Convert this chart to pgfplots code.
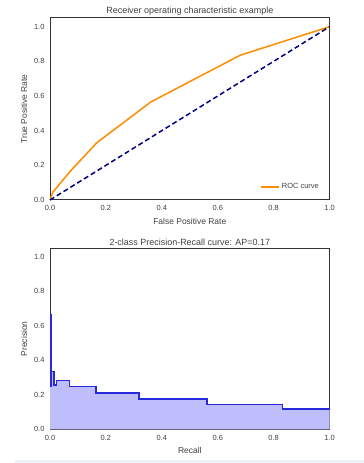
\documentclass[border=0pt]{standalone}
\usepackage{pgfplots}
\pgfplotsset{compat=1.18}
\usepackage{fontspec}
\setmainfont{Liberation Sans}
\definecolor{txt}{HTML}{404040}
\definecolor{frame}{HTML}{333333}
\definecolor{darkorange}{RGB}{255,140,0}
\definecolor{navy}{RGB}{0,0,128}
\definecolor{prline}{RGB}{40,40,220}
\definecolor{prfill}{RGB}{190,190,252}
\definecolor{band}{HTML}{EEF2F5}
\pgfplotsset{
  mystyle/.style={
    scale only axis, width=279.6bp, anchor=south west,
    xmin=0, xmax=1, ymin=0, ymax=1.05, clip=false,
    xtick={0,0.2,0.4,0.6,0.8,1.0}, ytick={0,0.2,0.4,0.6,0.8,1.0},
    major tick length=0pt,
    /pgf/number format/.cd, fixed, fixed zerofill, precision=1, assume math mode=true,
    /pgfplots/.cd,
    tick label style={font=\fontsize{7.5}{8}\selectfont, text=txt},
    label style={font=\fontsize{8.5}{9}\selectfont, text=txt},
    title style={font=\fontsize{9}{10}\selectfont, text=txt, yshift=-7bp},
    axis line style={frame, line width=1bp},
    xticklabel style={yshift=-2bp},
    yticklabel style={xshift=-2bp},
    xlabel style={yshift=-0.5bp},
    ylabel style={yshift=0bp},
  }
}
\begin{document}
\begin{tikzpicture}
\path[use as bounding box] (0,0) rectangle (364bp,463bp);
\fill[band] (15bp,0) rectangle (364bp,3bp);
\begin{axis}[mystyle, height=182bp, at={(50bp,263bp)},
  title={Receiver operating characteristic example},
  xlabel={False Positive Rate}, ylabel={True Positive Rate},
  legend style={at={(0.98,0.03)}, anchor=south east, draw=none, fill=none, font=\fontsize{7.5}{8}\selectfont, text=txt},
  legend image code/.code={\draw[#1] (0bp,0bp) -- (18bp,0bp);},
  legend cell align=left]
\addplot[darkorange, line width=1.5bp] coordinates {
(0,0) (0.01,0.045) (0.072,0.165) (0.167,0.33) (0.36,0.565) (0.68,0.835) (1,1)};
\addlegendentry{ROC curve}
\addplot[navy, line width=1.5bp, dash pattern=on 5bp off 3bp, forget plot] coordinates {(0,0) (1,1)};
\end{axis}
\begin{axis}[mystyle, height=181bp, at={(50bp,33.7bp)},
  title={2-class Precision-Recall curve: AP=0.17},
  xlabel={Recall}, ylabel={Precision}]
\addplot[draw=none, fill=prfill] coordinates {
(0,0) (0,0.67) (0,0.25) (0.002,0.25) (0.002,0.334) (0.014,0.334) (0.014,0.257) (0.024,0.257)
(0.024,0.282) (0.069,0.282) (0.069,0.247) (0.164,0.247) (0.164,0.21) (0.319,0.21)
(0.319,0.176) (0.561,0.176) (0.561,0.143) (0.832,0.143) (0.832,0.118) (1,0.118) (1,0)} \closedcycle;
\addplot[prline, line width=1.4bp] coordinates {
(0.003,0.67) (0.003,0.25) (0.005,0.25) (0.005,0.334) (0.014,0.334) (0.014,0.257) (0.024,0.257)
(0.024,0.282) (0.069,0.282) (0.069,0.247) (0.164,0.247) (0.164,0.21) (0.319,0.21)
(0.319,0.176) (0.561,0.176) (0.561,0.143) (0.832,0.143) (0.832,0.118) (1,0.118)};
\end{axis}
\end{tikzpicture}
\end{document}
